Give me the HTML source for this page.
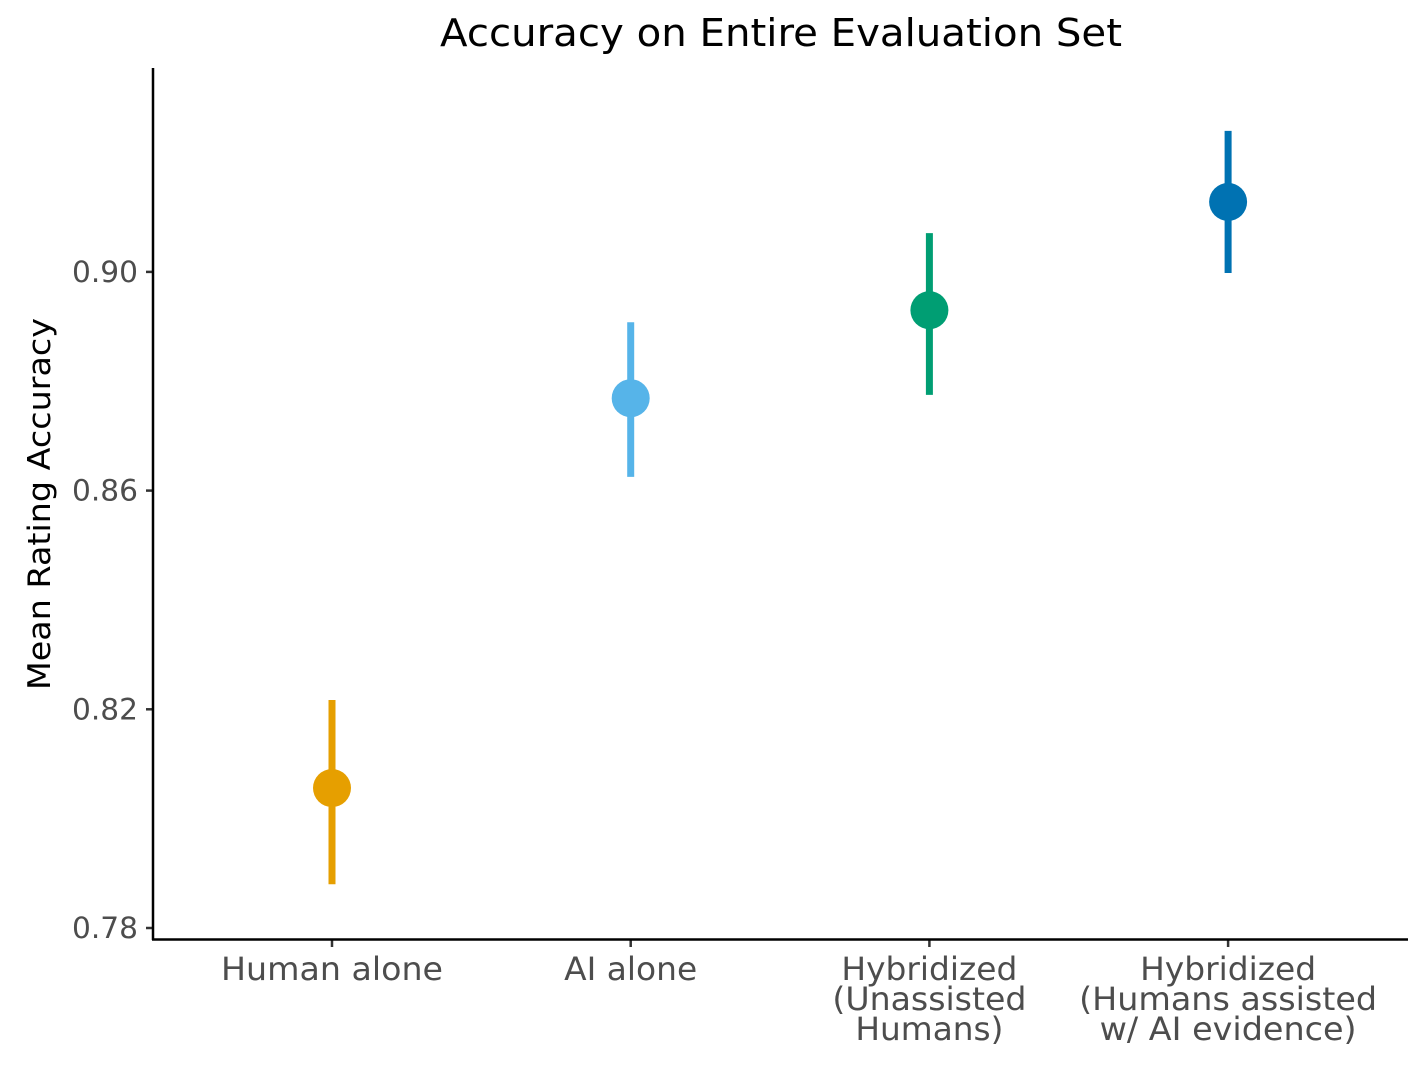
<!DOCTYPE html>
<html><head><meta charset="utf-8"><style>
body{margin:0;background:#fff}
svg{display:block;font-family:"DejaVu Sans","Liberation Sans",sans-serif}
</style></head><body>
<svg id="chart" width="1428" height="1088">
<text x="781" y="46" font-size="38" text-anchor="middle" textLength="682" lengthAdjust="spacingAndGlyphs">Accuracy on Entire Evaluation Set</text>
<text transform="translate(50,504) rotate(-90)" font-size="31" text-anchor="middle" textLength="372" lengthAdjust="spacingAndGlyphs">Mean Rating Accuracy</text>
<g id="yaxis"></g>
<g id="xaxis"></g>
<g id="marks"></g>
<line x1="153" y1="68" x2="153" y2="940" stroke="#000" stroke-width="2.5"/>
<line x1="152" y1="939.5" x2="1408" y2="939.5" stroke="#000" stroke-width="2.5"/>
</svg>
<script>
const categories = [["Human alone"],["AI alone"],["Hybridized","(Unassisted","Humans)"],["Hybridized","(Humans assisted","w/ AI evidence)"]];
const means = [0.8056, 0.8769, 0.8930, 0.9128];
const lower = [0.7880, 0.8625, 0.8775, 0.8998];
const upper = [0.8217, 0.8908, 0.9071, 0.9258];
const colors = ["#E69F00","#56B4E9","#009E73","#0072B2"];
const yTicks = [0.78, 0.82, 0.86, 0.90];
const yTickLabels = ["0.78","0.82","0.86","0.90"];
const NS="http://www.w3.org/2000/svg";
function y(v){return 928 - (v-0.78)/0.04*218.7;}
function x(i){return 332 + i*298.7;}
function mk(tag,attrs,parent){const e=document.createElementNS(NS,tag);for(const k in attrs)e.setAttribute(k,attrs[k]);parent.appendChild(e);return e;}
const ya=document.getElementById('yaxis'), xa=document.getElementById('xaxis'), m=document.getElementById('marks');
yTicks.forEach((t,i)=>{
  const l=mk('line',{x1:146,x2:153,y1:y(t),y2:y(t),stroke:'#333','stroke-width':2.5},ya);
  
  
  const tx=mk('text',{x:138,y:y(t)+10,'font-size':29,'text-anchor':'end',fill:'#4d4d4d',textLength:66,lengthAdjust:'spacingAndGlyphs'},ya);
  tx.textContent=yTickLabels[i];
  
  
});
const widths={"Human alone":222,"AI alone":133,"Hybridized":176,"(Unassisted":194,"Humans)":148,"(Humans assisted":298,"w/ AI evidence)":257};
categories.forEach((c,i)=>{
  const l=mk('line',{x1:x(i),x2:x(i),y1:939,y2:947,stroke:'#333','stroke-width':2.5},xa);
  
  
  c.forEach((s,j)=>{
    const tx=mk('text',{x:x(i),y:980+j*30,'font-size':32,'text-anchor':'middle',fill:'#4d4d4d',textLength:widths[s]||s.length*18,lengthAdjust:'spacingAndGlyphs'},xa);
    tx.textContent=s;
    
    
  });
  const eb=mk('line',{x1:x(i),x2:x(i),y1:y(upper[i]),y2:y(lower[i]),stroke:colors[i],'stroke-width':7},m);
  
  
  const p=mk('circle',{cx:x(i),cy:y(means[i]),r:19,fill:colors[i]},m);
  
  
});
</script>
</body></html>
